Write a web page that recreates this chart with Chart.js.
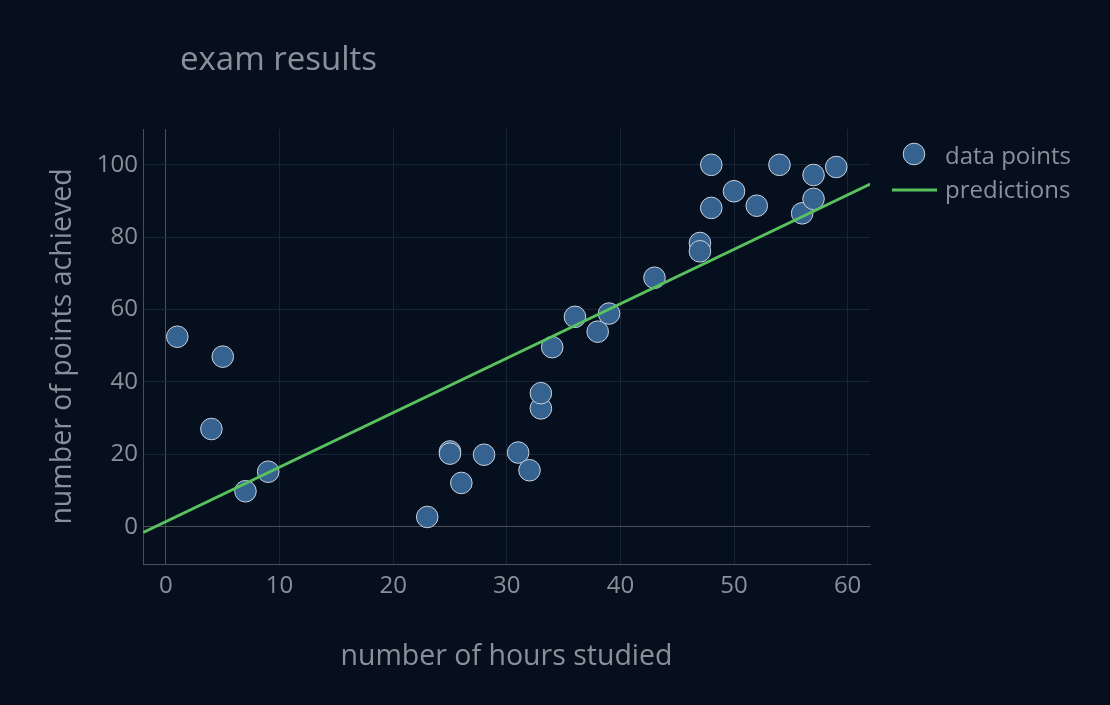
<!DOCTYPE html>
<html>
<head>
<meta charset="utf-8">
<script src="https://cdn.jsdelivr.net/npm/chart.js@4.4.0/dist/chart.umd.min.js"></script>
<style>
  html, body { margin: 0; padding: 0; background: #050f1d; }
  #wrap { width: 1110px; height: 705px; }
</style>
</head>
<body>
<div id="wrap"><canvas id="examChart" width="1110" height="705"></canvas></div>
<script>
// hours studied vs points achieved
const hours = [1, 4, 5, 7, 9, 23, 25, 25, 26, 28, 31, 32, 33, 33, 34, 36, 38, 39, 43, 47, 47, 48, 48, 50, 52, 54, 56, 57, 57, 59];
const points = [52.5, 27, 47, 9.8, 15.2, 2.7, 20.8, 20.2, 12.1, 19.9, 20.5, 15.6, 32.7, 36.9, 49.6, 58, 53.9, 58.9, 68.8, 78.4, 76.1, 100, 88.1, 92.7, 88.7, 100, 86.6, 97.2, 90.6, 99.4];
// fitted line end points
const predHours = [-2, 62];
const predPoints = [-1.6, 94.7];
const xTicks = [0, 10, 20, 30, 40, 50, 60];
const yTicks = [0, 20, 40, 60, 80, 100];

const FONT = "'Open Sans', sans-serif";
const TEXT = '#8a9099';
const GRID = '#1a2533';
const ZERO = '#4a4f57';
const DOT = '#35628f';
const DOT_LINE = '#c8d2de';
const GREEN = '#58c35e';

const scatterData = hours.map((h, i) => ({ x: h, y: points[i] }));
const lineData = predHours.map((h, i) => ({ x: h, y: predPoints[i] }));

// title + legend drawn on the canvas
const extras = {
  id: 'extras',
  afterDraw(chart) {
    const ctx = chart.ctx;
    ctx.save();
    ctx.fillStyle = TEXT;
    ctx.font = "33px " + FONT;
    ctx.textBaseline = 'alphabetic';
    ctx.textAlign = 'left';
    ctx.fillText('exam results', 180, 70);

    // legend
    ctx.beginPath();
    ctx.arc(914, 154, 10.8, 0, Math.PI * 2);
    ctx.fillStyle = DOT;
    ctx.fill();
    ctx.lineWidth = 1;
    ctx.strokeStyle = DOT_LINE;
    ctx.stroke();

    ctx.beginPath();
    ctx.moveTo(892, 190);
    ctx.lineTo(937, 190);
    ctx.lineWidth = 3;
    ctx.strokeStyle = GREEN;
    ctx.stroke();

    ctx.fillStyle = TEXT;
    ctx.font = "24px " + FONT;
    ctx.fillText('data points', 945, 164);
    ctx.fillText('predictions', 945, 198);
    ctx.restore();
  }
};

new Chart(document.getElementById('examChart'), {
  type: 'scatter',
  data: {
    datasets: [
      {
        label: 'predictions',
        data: lineData,
        showLine: true,
        borderColor: GREEN,
        borderWidth: 3,
        pointRadius: 0,
        order: 1
      },
      {
        label: 'data points',
        data: scatterData,
        backgroundColor: DOT,
        borderColor: DOT_LINE,
        borderWidth: 1,
        pointRadius: 10.8,
        pointHoverRadius: 10.8,
        order: 2
      }
    ]
  },
  options: {
    responsive: false,
    animation: false,
    layout: { padding: { left: 0, right: 240, top: 129, bottom: 0 } },
    plugins: {
      legend: { display: false },
      tooltip: { enabled: false }
    },
    scales: {
      x: {
        type: 'linear',
        min: -2.02,
        max: 61.97,
        afterBuildTicks(s) { s.ticks = xTicks.map(v => ({ value: v })); },
        afterFit(s) { s.height = 141; },
        grid: {
          color: c => (c.tick && c.tick.value === 0 ? ZERO : GRID),
          lineWidth: 1,
          drawTicks: false
        },
        border: { display: true, color: ZERO, width: 1 },
        ticks: { color: TEXT, font: { family: FONT, size: 24 }, padding: 8 },
        title: {
          display: true,
          text: 'number of hours studied',
          color: TEXT,
          font: { family: FONT, size: 28.5 },
          padding: { top: 0, bottom: 31 }
        }
      },
      y: {
        type: 'linear',
        min: -10.3,
        max: 109.9,
        afterBuildTicks(s) { s.ticks = yTicks.map(v => ({ value: v })); },
        afterFit(s) { s.width = 143; },
        grid: {
          color: c => (c.tick && c.tick.value === 0 ? ZERO : GRID),
          lineWidth: 1,
          drawTicks: false
        },
        border: { display: true, color: ZERO, width: 1 },
        ticks: { color: TEXT, font: { family: FONT, size: 24 }, padding: 5 },
        title: {
          display: true,
          text: 'number of points achieved',
          color: TEXT,
          font: { family: FONT, size: 28.5 },
          padding: { top: 46, bottom: 0 }
        }
      }
    }
  },
  plugins: [extras]
});
</script>
</body>
</html>
